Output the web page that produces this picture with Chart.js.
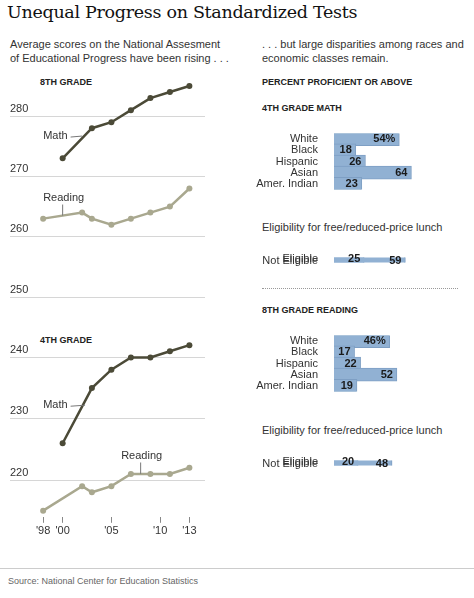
<!DOCTYPE html>
<html>
<head>
<meta charset="utf-8">
<script src="https://cdn.jsdelivr.net/npm/chart.js@4"></script>
<style>
  body { margin: 0; width: 474px; height: 598px; background: #fff; position: relative; font-family: "Liberation Sans", Arial, sans-serif; color: #333; overflow: hidden; }
  .t { position: absolute; white-space: nowrap; }
  .title { left: 7px; top: 2px; font-family: "DejaVu Serif", Georgia, serif; font-size: 17.5px; color: #111; letter-spacing: -0.3px; }
  .sub { font-size: 11px; line-height: 14px; color: #333; }
  .hd { font-size: 9px; font-weight: bold; color: #222; }
  .box { position: absolute; }
  .dots { position: absolute; left: 262px; top: 288px; width: 196px; border-top: 1px dotted #999; }
  .rule { position: absolute; left: 0; top: 568px; width: 474px; border-top: 1px solid #ccc; }
  .src { left: 8px; top: 576px; font-size: 9px; color: #666; }
</style>
</head>
<body>
<div class="t title">Unequal Progress on Standardized Tests</div>
<div class="t sub" style="left:10px;top:37px">Average scores on the National Assesment<br>of Educational Progress have been rising . . .</div>
<div class="t sub" style="left:262px;top:37px">. . . but large disparities among races and<br>economic classes remain.</div>
<div class="t hd" style="left:262px;top:77px">PERCENT PROFICIENT OR ABOVE</div>
<div class="t hd" style="left:262px;top:103px">4TH GRADE MATH</div>
<div class="t sub" style="left:262px;top:220px">Eligibility for free/reduced-price lunch</div>
<div class="dots"></div>
<div class="t hd" style="left:262px;top:305px">8TH GRADE READING</div>
<div class="t sub" style="left:262px;top:423px">Eligibility for free/reduced-price lunch</div>
<div class="t hd" style="left:40px;top:77px">8TH GRADE</div>
<div class="t hd" style="left:40px;top:335px">4TH GRADE</div>

<div class="box" style="left:0;top:60px;width:237px;height:245px"><canvas id="g8"></canvas></div>
<div class="box" style="left:0;top:320px;width:237px;height:220px"><canvas id="g4"></canvas></div>

<canvas id="m4race" class="box" width="237" height="85" style="left:237px;top:119px"></canvas>
<canvas id="m4lunch" class="box" width="237" height="34" style="left:237px;top:243px"></canvas>
<canvas id="r8race" class="box" width="237" height="85" style="left:237px;top:321px"></canvas>
<canvas id="r8lunch" class="box" width="237" height="34" style="left:237px;top:446px"></canvas>

<div class="rule"></div>
<div class="t src">Source: National Center for Education Statistics</div>

<script>
// ---- data ----
const years8Math = [2000, 2003, 2005, 2007, 2009, 2011, 2013];
const grade8Math = [273, 278, 279, 281, 283, 284, 285];
const years8Read = [1998, 2002, 2003, 2005, 2007, 2009, 2011, 2013];
const grade8Read = [263, 264, 263, 262, 263, 264, 265, 268];
const years4Math = [2000, 2003, 2005, 2007, 2009, 2011, 2013];
const grade4Math = [226, 235, 238, 240, 240, 241, 242];
const years4Read = [1998, 2002, 2003, 2005, 2007, 2009, 2011, 2013];
const grade4Read = [215, 219, 218, 219, 221, 221, 221, 222];
const yearTicks = [1998, 2000, 2005, 2010, 2013];
const ticks8 = [250, 260, 270, 280];
const ticks4 = [220, 230, 240];

const raceLabels = ['White', 'Black', 'Hispanic', 'Asian', 'Amer. Indian'];
const lunchLabels = ['Eligible', 'Not Eligible'];
const math4Race = [54, 18, 26, 64, 23];
const math4Lunch = [25, 59];
const read8Race = [46, 17, 22, 52, 19];
const read8Lunch = [20, 48];

const mathColor = '#4b4a37';
const readColor = '#a9a88f';
const barColor = '#91b1d3';
const FONT = '"Liberation Sans", Arial, sans-serif';

function pts(xs, ys) { return xs.map((x, i) => ({ x: x, y: ys[i] })); }

// y labels above gridlines + series name callouts
const linePlugin = {
  id: 'lineDeco',
  afterDraw(chart, args, opts) {
    const c = chart.ctx, y = chart.scales.y, x = chart.scales.x;
    c.save();
    c.font = '11px ' + FONT;
    c.fillStyle = '#333';
    c.textBaseline = 'bottom';
    opts.ticks.forEach(v => c.fillText(String(v), chart.chartArea.left, y.getPixelForValue(v) - 2));
    opts.notes.forEach(n => {
      const px = x.getPixelForValue(n.x), py = y.getPixelForValue(n.y);
      c.textBaseline = 'middle';
      c.fillText(n.text, px, py);
      c.strokeStyle = '#777';
      c.lineWidth = 1;
      c.beginPath();
      if (n.vert) {
        const lx = x.getPixelForValue(n.lx);
        c.moveTo(lx, py + 7);
        c.lineTo(lx, y.getPixelForValue(n.ly));
      } else {
        const w = c.measureText(n.text).width;
        c.moveTo(px + w + 3, py + 1);
        c.lineTo(x.getPixelForValue(n.lx), y.getPixelForValue(n.ly));
      }
      c.stroke();
    });
    c.restore();
  }
};

function lineChart(id, math, read, ymin, ymax, ticks, notes, showX, pad) {
  new Chart(document.getElementById(id), {
    type: 'line',
    data: {
      datasets: [
        { data: math, borderColor: mathColor, backgroundColor: mathColor, borderWidth: 2.5, pointRadius: 3, pointBorderWidth: 0 },
        { data: read, borderColor: readColor, backgroundColor: readColor, borderWidth: 2.5, pointRadius: 3, pointBorderWidth: 0 }
      ]
    },
    options: {
      responsive: true, maintainAspectRatio: false, animation: false,
      layout: { padding: pad },
      plugins: { legend: { display: false }, tooltip: { enabled: false }, lineDeco: { ticks: ticks, notes: notes } },
      scales: {
        x: {
          type: 'linear', min: 1994.6, max: 2014.6,
          display: showX,
          afterBuildTicks: s => { s.ticks = yearTicks.map(v => ({ value: v })); },
          grid: { drawOnChartArea: false, tickLength: 6, color: '#888', offset: false },
          border: { display: false },
          ticks: { callback: v => "'" + String(v).slice(2), font: { size: 11, family: FONT }, color: '#333', padding: 2, maxRotation: 0 }
        },
        y: {
          min: ymin, max: ymax,
          afterBuildTicks: s => { s.ticks = ticks.map(v => ({ value: v })); },
          afterFit: s => { s.width = 0; },
          grid: { color: '#d6d6d6', drawTicks: false },
          border: { display: false },
          ticks: { display: false }
        }
      }
    },
    plugins: [linePlugin]
  });
}

lineChart('g8', pts(years8Math, grade8Math), pts(years8Read, grade8Read), 250, 286, ticks8,
  [{ text: 'Math', x: 1998, y: 276.7, lx: 2002, ly: 276.7 },
   { text: 'Reading', x: 1998, y: 266.5, lx: 2000, ly: 263.5, vert: true }],
  false, { left: 10, right: 32, top: 20, bottom: 8 });

lineChart('g4', pts(years4Math, grade4Math), pts(years4Read, grade4Read), 214, 243, ticks4,
  [{ text: 'Math', x: 1998, y: 232.2, lx: 2002.3, ly: 232.2 },
   { text: 'Reading', x: 2006, y: 224, lx: 2008, ly: 221, vert: true }],
  true, { left: 10, right: 32, top: 19, bottom: 0 });

// value labels inside bar ends
const barPlugin = {
  id: 'barVals',
  afterDatasetsDraw(chart, args, opts) {
    const c = chart.ctx;
    c.save();
    c.font = 'bold 11px ' + FONT;
    c.fillStyle = '#1a1a1a';
    c.textAlign = 'right';
    c.textBaseline = 'middle';
    chart.getDatasetMeta(0).data.forEach((bar, i) => {
      const v = chart.data.datasets[0].data[i];
      c.fillText(v + (i === 0 && opts.pct ? '%' : ''), bar.x - 4, bar.y);
    });
    c.restore();
  }
};

function barChart(id, labels, values, pct) {
  new Chart(document.getElementById(id), {
    type: 'bar',
    data: { labels: labels, datasets: [{ data: values, backgroundColor: barColor, borderColor: '#7e9fc4', borderWidth: 1, barThickness: 13 }] },
    options: {
      indexAxis: 'y', responsive: false, animation: false,
      layout: { padding: { left: 0, right: 19, top: 0, bottom: 0 } },
      plugins: { legend: { display: false }, tooltip: { enabled: false }, barVals: { pct: pct } },
      scales: {
        x: { min: 0, max: 100, display: false },
        y: {
          afterFit: s => { s.width = 97; },
          grid: { display: false }, border: { display: false },
          ticks: { font: { size: 11, family: FONT }, color: '#333', padding: 8 }
        }
      }
    },
    plugins: [barPlugin]
  });
}

barChart('m4race', raceLabels, math4Race, true);
barChart('m4lunch', lunchLabels, math4Lunch, false);
barChart('r8race', raceLabels, read8Race, true);
barChart('r8lunch', lunchLabels, read8Lunch, false);
</script>
</body>
</html>
